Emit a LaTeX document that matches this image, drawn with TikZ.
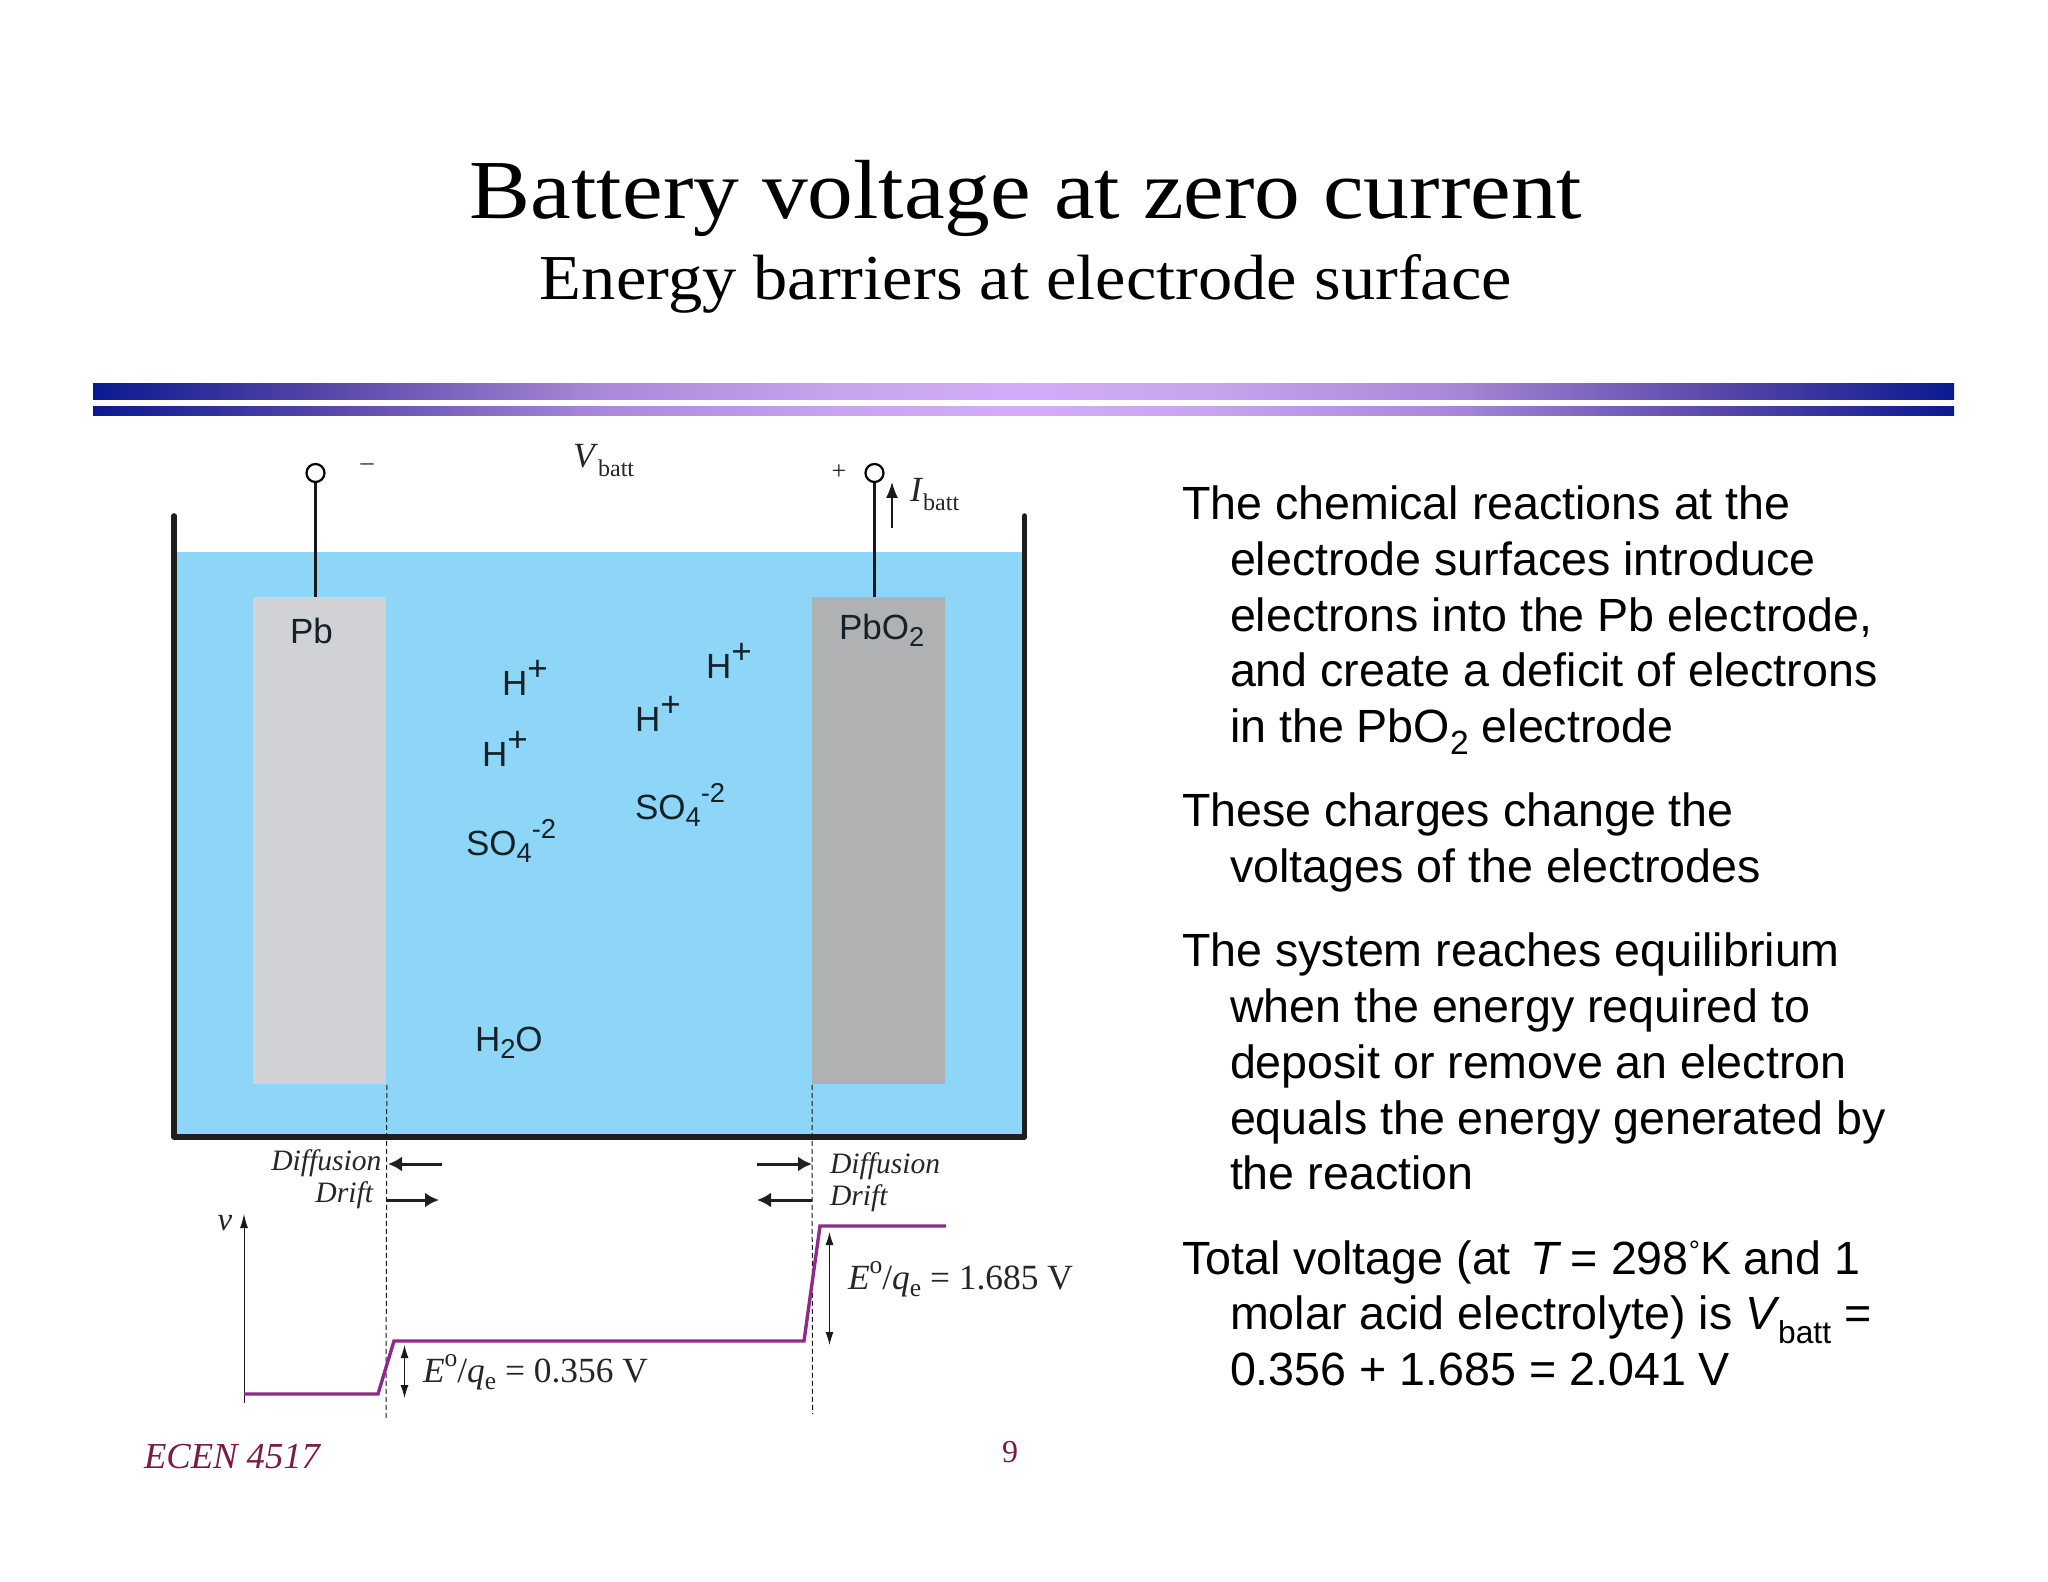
\documentclass[tikz,border=0pt]{standalone}
\usepackage{fontspec}
\setmainfont{Liberation Serif}
\setsansfont{Liberation Sans}
\newfontfamily\pal[FakeStretch=1.09]{Liberation Serif}
\newfontfamily\palsub[FakeStretch=1.07]{Liberation Serif}
\usetikzlibrary{arrows.meta,calc}
\definecolor{liquid}{HTML}{8ED6F7}
\definecolor{pblight}{HTML}{D0D2D5}
\definecolor{pbdark}{HTML}{B0B1B2}
\definecolor{trace}{HTML}{8E2A8A}
\definecolor{foot}{HTML}{7A1A4A}
\definecolor{navy}{HTML}{0A1A90}
\definecolor{lilac}{HTML}{D2ACF8}
\definecolor{ink}{HTML}{142228}
\definecolor{stopa}{HTML}{5A48A8}
\definecolor{stopb}{HTML}{A888D8}
\definecolor{stopc}{HTML}{C8A4EE}
\pgfdeclarehorizontalshading{barshade}{100bp}{color(0bp)=(navy); color(25bp)=(navy); color(31.5bp)=(stopa); color(38.5bp)=(stopb); color(45bp)=(stopc); color(50bp)=(lilac); color(55bp)=(stopc); color(61.5bp)=(stopb); color(68.5bp)=(stopa); color(75bp)=(navy); color(100bp)=(navy)}
\newcommand{\supr}[2]{\raisebox{#1em}{\scalebox{0.72}{#2}}}
\newcommand{\battsub}{\raisebox{-0.24em}{\scalebox{0.68}{batt}}}
\newcommand{\hplus}{H\raisebox{0.42em}{+}}
\newcommand{\sofour}{SO\raisebox{-0.22em}{\scalebox{0.78}{4}}\raisebox{0.48em}{\scalebox{0.78}{-2}}}
\newcommand{\eoq}{\textit{E}\supr{0.45}{o}/\textit{q}\supr{-0.2}{e}}
\tikzset{
  x=0.5pt,y=-0.5pt,
  txt/.style={anchor=base west,inner sep=0pt,outer sep=0pt},
  txe/.style={anchor=base east,inner sep=0pt,outer sep=0pt},
  txc/.style={anchor=base,inner sep=0pt,outer sep=0pt},
  body/.style={txt,font=\sffamily\fontsize{23.3}{23.3}\selectfont,text=black},
  ion/.style={txt,font=\sffamily\fontsize{17.5}{17.5}\selectfont,text=ink},
  figser/.style={font=\fontsize{17.7}{17.7}\selectfont,text=black!85},
  smallital/.style={font=\itshape\fontsize{14.8}{14.8}\selectfont,text=black!85},
  terminal/.style={circle,draw=black,fill=white,line width=1.1pt,minimum size=9pt,inner sep=0pt},
  wall/.style={line width=2.8pt,draw=black!88,line cap=round,line join=round},
  thin wire/.style={line width=1.1pt,draw=black!90},
  dashline/.style={line width=0.5pt,draw=black!90,dash pattern=on 2.5pt off 1.5pt},
  flow/.style={line width=1.5pt,draw=black!88,-{Latex[length=7pt,width=7.5pt]}},
  dim/.style={line width=0.5pt,draw=black!90,{Latex[length=6.5pt,width=4pt]}-{Latex[length=6.5pt,width=4pt]}},
  axisarrow/.style={line width=0.5pt,draw=black!90,-{Latex[length=7pt,width=4pt]}},
  curve/.style={line width=1.7pt,draw=trace,line join=miter},
}
\begin{document}
\begin{tikzpicture}
\useasboundingbox (0,0) rectangle (2048,1582);
\fill[white] (0,0) rectangle (2048,1582);
% title
\node[txc,font=\pal\fontsize{41.95}{41.95}\selectfont] (title) at (1026,219) {Battery voltage at zero current};
\node[txc,font=\palsub\fontsize{32}{32}\selectfont] (subtitle) at (1026,300) {Energy barriers at electrode surface};
% bars
\shade[shading=barshade] (93,383.5) rectangle (1954,400);
\shade[shading=barshade] (93,407) rectangle (1954,416);
% tank
\fill[liquid] (174,552) rectangle (1024,1137);
\node[fill=pblight,inner sep=0pt,minimum width=66.5pt,minimum height=243.5pt,anchor=north west] (pb) at (253,597) {};
\node[fill=pbdark,inner sep=0pt,minimum width=66.5pt,minimum height=243.5pt,anchor=north west] (pbo) at (812,597) {};
\draw[wall] (174,516) -- (174,1137) -- (1024.5,1137) -- (1024.5,516);
% terminals
\node[terminal] (tl) at (315.5,473) {};
\node[terminal] (tr) at (874.5,473) {};
\draw[thin wire] (tl) -- (tl |- pb.north);
\draw[thin wire] (tr) -- (tr |- pbo.north);
\node[txc,font=\fontsize{13}{13}\selectfont,text=black!85] (minus) at (367,471) {–};
\node[txc,font=\fontsize{13}{13}\selectfont,text=black!85] (plus) at (839,480) {+};
\node[txt,figser] (vb) at (573,468) {\textit{V}\battsub};
\node[txt,figser] (ib) at (910,502) {\textit{I}\battsub};
\coordinate (ia) at (892,528);
\coordinate (ib2) at (892,482);
\draw[line width=0.8pt,draw=black!90,-{Latex[length=8pt,width=6pt]}] (ia) -- (ib2);
% electrode and ion labels
\node[ion] (lpb) at (290,643) {Pb};
\node[ion] (lpbo) at (839,639) {PbO\raisebox{-0.22em}{\scalebox{0.78}{2}}};
\node[ion] (h1) at (502,695) {\hplus};
\node[ion] (h2) at (706,678) {\hplus};
\node[ion] (h3) at (635,731) {\hplus};
\node[ion] (h4) at (482,766) {\hplus};
\node[ion] (s1) at (635,819) {\sofour};
\node[ion] (s2) at (466,855) {\sofour};
\node[ion] (w) at (475,1051) {H\raisebox{-0.22em}{\scalebox{0.78}{2}}O};
% boundaries
\coordinate (dl) at (386,1418);
\coordinate (dr) at (812.5,1414);
\draw[dashline] (pb.south east) -- (dl);
\draw[dashline] (pbo.south west) -- (dr);
% diffusion / drift
\node[txe,smallital] (d1) at (381.5,1170) {Diffusion};
\node[txe,smallital] (d2) at (373,1202) {Drift};
\node[txt,smallital] (d3) at (830,1173) {Diffusion};
\node[txt,smallital] (d4) at (830,1205) {Drift};
\coordinate (a1) at (442,1164); \coordinate (a2) at (388,1164);
\coordinate (a3) at (386,1200); \coordinate (a4) at (439,1200);
\coordinate (a5) at (757,1164); \coordinate (a6) at (812,1164);
\coordinate (a7) at (812,1200); \coordinate (a8) at (757,1200);
\draw[flow] (a1) -- (a2);
\draw[flow] (a3) -- (a4);
\draw[flow] (a5) -- (a6);
\draw[flow] (a7) -- (a8);
% plot
\coordinate (o) at (244,1403);
\coordinate (vt) at (244,1214);
\draw[axisarrow] (o) -- (vt);
\node[txc,font=\itshape\fontsize{16.5}{16.5}\selectfont,text=black!85] (vl) at (225,1230) {v};
\coordinate (p0) at (244,1394);
\draw[curve] (p0) -- (378,1394) -- (394,1341) -- (804,1341) -- (820,1226) -- (946,1226);
\coordinate (e1) at (404.5,1345); \coordinate (e2) at (404.5,1398);
\coordinate (e3) at (829.5,1232); \coordinate (e4) at (829.5,1345);
\draw[dim] (e1) -- (e2);
\draw[dim] (e3) -- (e4);
\node[txt,figser] (q1) at (423,1382) {\eoq{} = 0.356 V};
\node[txt,figser] (q2) at (848,1289) {\eoq{} = 1.685 V};
% footer
\node[txt,font=\itshape\fontsize{18.3}{18.3}\selectfont,text=foot] (ft) at (144,1468) {ECEN 4517};
\node[txc,font=\fontsize{16}{16}\selectfont,text=foot] (pg) at (1010,1462) {9};
% body text
\node[body] (b1) at (1182,519.5) {The chemical reactions at the};
\node[body] (b2) at (1230,575.5) {electrode surfaces introduce};
\node[body] (b3) at (1230,631) {electrons into the Pb electrode,};
\node[body] (b4) at (1230,686.5) {and create a deficit of electrons};
\node[body] (b5) at (1230,742.5) {in the PbO\raisebox{-0.26em}{\scalebox{0.72}{2}} electrode};
\node[body] (b6) at (1182,826.5) {These charges change the};
\node[body] (b7) at (1230,882.5) {voltages of the electrodes};
\node[body] (b8) at (1182,966) {The system reaches equilibrium};
\node[body] (b9) at (1230,1022) {when the energy required to};
\node[body] (b10) at (1230,1078) {deposit or remove an electron};
\node[body] (b11) at (1230,1134) {equals the energy generated by};
\node[body] (b12) at (1230,1189.5) {the reaction};
\node[body] (b13) at (1182,1274) {Total voltage (at\kern0.14em{} \textit{T}\kern-0.08em{} = 298\raisebox{0.3em}{\scalebox{0.6}{°}}K and 1};
\node[body] (b14) at (1230,1329.5) {molar acid electrolyte) is \textit{V}\kern-0.04em\raisebox{-0.3em}{\scalebox{0.68}{batt}} =};
\node[body] (b15) at (1230,1385) {0.356 + 1.685 = 2.041 V};
\end{tikzpicture}
\end{document}
